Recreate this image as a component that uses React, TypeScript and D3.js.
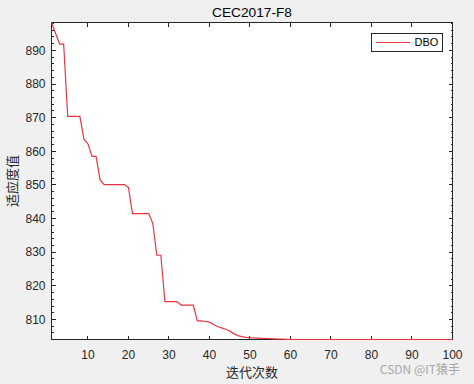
import React from "react";
import * as d3 from "d3";

const title = "CEC2017-F8";
const xLabel = "迭代次数";
const yLabel = "适应度值";
const seriesName = "DBO";
const watermark = "CSDN @IT猿手";

const dboValues: number[] = [
  898.3, 895.1, 891.9, 891.9, 870.4, 870.4, 870.4, 870.4, 863.7, 862.2,
  858.5, 858.5, 851.5, 850.1, 850.1, 850.1, 850.1, 850.1, 850.1, 849.2,
  841.5, 841.5, 841.5, 841.5, 841.5, 838.6, 829.1, 829.1, 815.3, 815.3,
  815.3, 815.3, 814.3, 814.3, 814.3, 814.3, 809.6, 809.6, 809.4, 809.2,
  808.5, 807.9, 807.5, 807.1, 806.6, 805.8, 805.2, 804.9, 804.7, 804.6,
  804.5, 804.45, 804.4, 804.35, 804.3, 804.25, 804.2, 804.15, 804.1, 804.08,
  804.05, 804.05, 804.05, 804.05, 804.05, 804.05, 804.05, 804.05, 804.05, 804.05,
  804.05, 804.05, 804.05, 804.05, 804.05, 804.05, 804.05, 804.05, 804.05, 804.05,
  804.05, 804.05, 804.05, 804.05, 804.05, 804.05, 804.05, 804.05, 804.05, 804.05,
  804.05, 804.05, 804.05, 804.05, 804.05, 804.05, 804.05, 804.05, 804.05, 804.05,
];

const xTicks = [10, 20, 30, 40, 50, 60, 70, 80, 90, 100];
const yTicks = [810, 820, 830, 840, 850, 860, 870, 880, 890];
const xDomain: [number, number] = [1, 100];
const yDomain: [number, number] = [804.05, 898.3];

const W = 474;
const H = 384;
const L = 51.5;
const R = 452.5;
const T = 22.5;
const B = 339.5;
const AX = "#262626";
const FONT = "'Liberation Sans', Arial, Helvetica, sans-serif";
const CJK = "'Noto Sans CJK SC', 'Noto Sans', sans-serif";

export default function App() {
  const x = d3.scaleLinear().domain(xDomain).range([L, R]);
  const y = d3.scaleLinear().domain(yDomain).range([B, T]);
  const line = d3
    .line<number>()
    .x((_, i) => x(i + 1))
    .y((d) => y(d));
  const minorTicks = d3
    .range(Math.ceil(yDomain[0] / 2) * 2, yDomain[1], 2)
    .filter((v) => v % 10 !== 0);

  return (
    <svg
      width={W}
      height={H}
      style={{ position: "absolute", left: 0, top: 0, display: "block" }}
    >
      <rect x={0} y={0} width={W} height={H} fill="#f0f0f0" />
      <rect x={L} y={T} width={R - L} height={B - T} fill="#ffffff" />
      <defs>
        <clipPath id="plotClip">
          <rect x={L - 1} y={T - 1} width={R - L + 2} height={B - T + 2} />
        </clipPath>
      </defs>
      {/* frame */}
      <rect
        x={L}
        y={T}
        width={R - L}
        height={B - T}
        fill="none"
        stroke={AX}
        strokeWidth={1}
        shapeRendering="crispEdges"
      />
      {/* x ticks */}
      {xTicks.map((t) => (
        <g key={"xt" + t}>
          <line x1={x(t)} x2={x(t)} y1={B} y2={B - 4} stroke={AX} shapeRendering="crispEdges" />
          <line x1={x(t)} x2={x(t)} y1={T} y2={T + 4} stroke={AX} shapeRendering="crispEdges" />
          <text
            x={x(t)}
            y={B + 19}
            textAnchor="middle"
            fontFamily={FONT}
            fontSize={12}
            fill={AX}
          >
            {t}
          </text>
        </g>
      ))}
      {/* y ticks */}
      {yTicks.map((t) => (
        <g key={"yt" + t}>
          <line x1={L} x2={L + 4} y1={y(t)} y2={y(t)} stroke={AX} shapeRendering="crispEdges" />
          <line x1={R} x2={R - 4} y1={y(t)} y2={y(t)} stroke={AX} shapeRendering="crispEdges" />
          <text
            x={L - 6}
            y={y(t)}
            dy="0.35em"
            textAnchor="end"
            fontFamily={FONT}
            fontSize={12}
            fill={AX}
          >
            {t}
          </text>
        </g>
      ))}
      {minorTicks.map((t) => (
        <g key={"ym" + t}>
          <line x1={L} x2={L + 2} y1={y(t)} y2={y(t)} stroke={AX} shapeRendering="crispEdges" />
          <line x1={R} x2={R - 2} y1={y(t)} y2={y(t)} stroke={AX} shapeRendering="crispEdges" />
        </g>
      ))}
      <path
        d={line(dboValues) || ""}
        fill="none"
        stroke="#f0323f"
        strokeWidth={1.2}
        clipPath="url(#plotClip)"
      />
      {/* title */}
      <text
        x={(L + R) / 2}
        y={16.5}
        textAnchor="middle"
        fontFamily={FONT}
        fontSize={13.7}
        fill="#000"
      >
        {title}
      </text>
      {/* axis labels */}
      <text
        x={(L + R) / 2}
        y={377}
        textAnchor="middle"
        fontFamily={CJK}
        fontSize={13}
        fill={AX}
      >
        {xLabel}
      </text>
      <text
        transform={`translate(17, ${(T + B) / 2}) rotate(-90)`}
        textAnchor="middle"
        fontFamily={CJK}
        fontSize={13}
        fill={AX}
      >
        {yLabel}
      </text>
      {/* legend */}
      <rect
        x={371.5}
        y={33.5}
        width={71}
        height={18}
        fill="#ffffff"
        stroke={AX}
        strokeWidth={1}
        shapeRendering="crispEdges"
      />
      <line x1={376} x2={410} y1={42.5} y2={42.5} stroke="#f0323f" strokeWidth={1.2} />
      <text
        x={414.5}
        y={42.5}
        dy="0.36em"
        fontFamily={FONT}
        fontSize={11}
        fill="#000"
      >
        {seriesName}
      </text>
      {/* watermark */}
      <text
        x={460}
        y={374}
        textAnchor="end"
        fontFamily={CJK}
        fontSize={12}
        fill="#a8a8a8"
      >
        {watermark}
      </text>
    </svg>
  );
}
